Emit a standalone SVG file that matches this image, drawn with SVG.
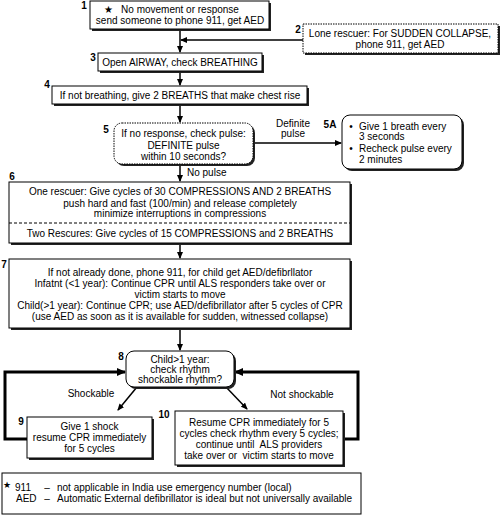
<svg xmlns="http://www.w3.org/2000/svg" width="500" height="515" viewBox="0 0 500 515">
<defs>
<marker id="ah" markerWidth="7" markerHeight="6" refX="6" refY="3" orient="auto" markerUnits="userSpaceOnUse"><path d="M0,0 L7,3 L0,6 z" fill="#000"/></marker>
<marker id="ahb" markerWidth="9" markerHeight="8" refX="8" refY="4" orient="auto" markerUnits="userSpaceOnUse"><path d="M0,0 L9,4 L0,8 z" fill="#000"/></marker>
</defs>
<style>
.box{fill:#fff;stroke:#000;stroke-width:1}
.sh{fill:#222;stroke:none}
.dot{stroke-dasharray:1.5 1}
text{font-family:"Liberation Sans",Arial,sans-serif;font-size:10px;fill:#000}
.c{text-anchor:middle}
.n{font-weight:bold}
.ln{stroke:#000;stroke-width:1.5;fill:none}
.thk{stroke:#000;stroke-width:3;fill:none}
</style>
<rect width="500" height="515" fill="#fff"/>
<g id="connectors">
<path class="ln" d="M180,29 V52" marker-end="url(#ah)"/>
<path class="ln" d="M303,40 H181" marker-end="url(#ah)"/>
<path class="ln" d="M180,71 V85" marker-end="url(#ah)"/>
<path class="ln" d="M180,104 V122" marker-end="url(#ah)"/>
<path class="ln" d="M253,143 H341" marker-end="url(#ah)"/>
<path class="ln" d="M180,164 V181" marker-end="url(#ah)"/>
<path class="ln" d="M180,243 V258" marker-end="url(#ah)"/>
<path class="ln" d="M180,328 V350" marker-end="url(#ah)"/>
<path class="thk" d="M27,439 H5 V372 H125" marker-end="url(#ahb)"/>
<path class="thk" d="M343,439 H358 V372 H235" marker-end="url(#ahb)"/>
<path class="ln" d="M137,387 L118,410" marker-end="url(#ah)"/>
<path class="ln" d="M226,387 L247,409" marker-end="url(#ah)"/>
<text x="293" y="126.5" class="c">Definite</text>
<text x="293" y="137" class="c">pulse</text>
<text x="187" y="175.5">No pulse</text>
<text x="91" y="396.5" class="c">Shockable</text>
<text x="302" y="397.5" class="c">Not shockable</text>
</g>
<g id="node1">
<rect class="sh" x="92" y="3" width="179" height="28"/>
<rect class="box" x="90" y="1" width="179" height="28"/>
<text x="108" y="12.5" class="c">★</text>
<text x="180" y="12.5" class="c">No movement or response</text>
<text x="180" y="23.5" class="c">send someone to phone 911, get AED</text>
<text x="84" y="8.5" class="c n">1</text>
</g>
<g id="node2">
<rect class="sh" x="305" y="26" width="195" height="29"/>
<rect class="box dot" x="303" y="24" width="195" height="29"/>
<text x="400" y="36.5" class="c">Lone rescuer: For SUDDEN COLLAPSE,</text>
<text x="400" y="47.5" class="c">phone 911, get AED</text>
<text x="298" y="32.5" class="c n">2</text>
</g>
<g id="node3">
<rect class="sh" x="100" y="55" width="164" height="18"/>
<rect class="box" x="98" y="53" width="164" height="18"/>
<text x="180" y="65.5" class="c">Open AIRWAY, check BREATHING</text>
<text x="93" y="60.5" class="c n">3</text>
</g>
<g id="node4">
<rect class="sh" x="54" y="88" width="255" height="18"/>
<rect class="box" x="52" y="86" width="255" height="18"/>
<text x="180" y="98.5" class="c">If not breathing, give 2 BREATHS that make chest rise</text>
<text x="47" y="87.5" class="c n">4</text>
</g>
<g id="node5">
<rect class="sh" x="116" y="125" width="139" height="41" rx="8"/>
<rect class="box dot" x="114" y="123" width="139" height="41" rx="8"/>
<text x="183.5" y="136.5" class="c">If no response, check pulse:</text>
<text x="183.5" y="148.5" class="c">DEFINITE pulse</text>
<text x="183.5" y="159.5" class="c">within 10 seconds?</text>
<text x="106" y="132.5" class="c n">5</text>
</g>
<g id="node5A">
<rect class="sh" x="344" y="117" width="120" height="54" rx="8"/>
<rect class="box" x="342" y="115" width="120" height="54" rx="8"/>
<text x="351" y="129.5" class="c">•</text>
<text x="359" y="129.5">Give 1 breath every</text>
<text x="359" y="139.5">3 seconds</text>
<text x="351" y="151.5" class="c">•</text>
<text x="359" y="151.5">Recheck pulse every</text>
<text x="359" y="162.5">2 minutes</text>
<text x="330" y="127.5" class="c n">5A</text>
</g>
<g id="node6">
<rect class="sh" x="11" y="184" width="341" height="61"/>
<rect class="box" x="9" y="182" width="341" height="61"/>
<line x1="9" y1="223" x2="350" y2="223" stroke="#000" stroke-width="1" stroke-dasharray="3 2"/>
<text x="180" y="194.5" class="c">One rescuer: Give cycles of 30 COMPRESSIONS AND 2 BREATHS</text>
<text x="180" y="206.5" class="c">push hard and fast (100/min) and release completely</text>
<text x="180" y="217" class="c">minimize interruptions in compressions</text>
<text x="180" y="236.5" class="c">Two Rescures: Give cycles of 15 COMPRESSIONS and 2 BREATHS</text>
<text x="12" y="179.5" class="c n">6</text>
</g>
<g id="node7">
<rect class="sh" x="11" y="261" width="341" height="69"/>
<rect class="box" x="9" y="259" width="341" height="69"/>
<text x="180" y="275.5" class="c">If not already done, phone 911, for child get AED/defibrllator</text>
<text x="180" y="286.5" class="c">Infatnt (&lt;1 year): Continue CPR until ALS responders take over or</text>
<text x="180" y="297.5" class="c">victim starts to move</text>
<text x="180" y="308.5" class="c">Child(&gt;1 year): Continue CPR; use AED/defibrillator after 5 cycles of CPR</text>
<text x="180" y="319.5" class="c">(use AED as soon as it is available for sudden, witnessed collapse)</text>
<text x="4" y="268" class="c n">7</text>
</g>
<g id="node8">
<rect class="sh" x="128" y="353" width="108" height="36" rx="8"/>
<rect class="box" x="126" y="351" width="108" height="36" rx="8"/>
<text x="180" y="362.5" class="c">Child&gt;1 year:</text>
<text x="180" y="372.5" class="c">check rhythm</text>
<text x="180" y="382.5" class="c">shockable rhythm?</text>
<text x="121" y="359.5" class="c n">8</text>
</g>
<g id="node9">
<rect class="sh" x="29" y="419" width="125" height="41"/>
<rect class="box" x="27" y="417" width="125" height="41"/>
<text x="89.5" y="429.5" class="c">Give 1 shock</text>
<text x="89.5" y="440.5" class="c">resume CPR immediately</text>
<text x="89.5" y="451.5" class="c">for 5 cycles</text>
<text x="21" y="424.5" class="c n">9</text>
</g>
<g id="node10">
<rect class="sh" x="177" y="413" width="168" height="54"/>
<rect class="box" x="175" y="411" width="168" height="54"/>
<text x="259" y="425.5" class="c">Resume CPR immediately for 5</text>
<text x="259" y="436.5" class="c">cycles check rhythm every 5 cycles;</text>
<text x="259" y="447.5" class="c" xml:space="preserve">continue until  ALS providers</text>
<text x="259" y="458.5" class="c" xml:space="preserve">take over or  victim starts to move</text>
<text x="164" y="417.5" class="c n">10</text>
</g>
<g id="footer">
<rect class="box" x="2" y="473" width="359" height="41"/>
<text x="7" y="488" class="c" style="font-size:9px">★</text>
<text x="15" y="490.5">911</text>
<text x="47" y="490.5" class="c">–</text>
<text x="57" y="490.5">not applicable in India use emergency number (local)</text>
<text x="16" y="501.5">AED</text>
<text x="47" y="501.5" class="c">–</text>
<text x="57" y="501.5">Automatic External defibrillator is ideal but not universally available</text>
</g>
</svg>
